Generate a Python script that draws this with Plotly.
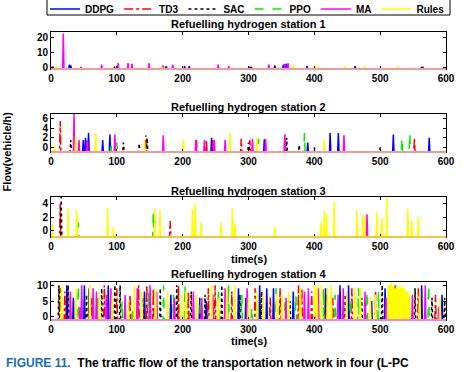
import plotly.graph_objects as go

W, H = 474, 372
T_MIN, T_MAX = 0, 600
BASE = -1      # resting level of every series (bottom of each panel)
HALF = 1.0     # half width (s) of a single-sample spike

series_names = ["DDPG", "TD3", "SAC", "PPO", "MA", "Rules"]
series_colors = ["#0000ff", "#ff0000", "#000000", "#00ee00", "#ff00ff", "#ffff00"]
series_dash = ["solid", "dashdot", "dot", "dash", "solid", "solid"]

station_titles = ["Refuelling hydrogen station 1", "Refuelling hydrogen station 2",
                  "Refuelling hydrogen station 3", "Refuelling hydrogen station 4"]
y_ranges = [[-1, 24], [-1, 7], [-1, 5], [-1, 11]]
y_ticks = [[0, 10, 20], [0, 2, 4, 6], [0, 2, 4], [0, 5, 10]]
x_ticks = [0, 100, 200, 300, 400, 500, 600]
base_tint = ["#f59a9a", "#f59a9a", "#f8c24a", "#f08ad0"]

# ---------------- Station 1 ----------------
s1_ddpg_t = [3, 28, 30, 175, 203, 210, 302, 340, 353, 357, 389, 462]
s1_ddpg_v = [0.5, 2, 1.5, 1, 1, 1, 0.5, 1.5, 2, 2.5, 1, 1]
s1_td3_t = [2, 45, 565]
s1_td3_v = [0.5, 1, 0.5]
s1_sac_t = [96, 305, 563]
s1_sac_v = [1, 0.3, 0.3]
s1_ppo_t = []
s1_ppo_v = []
s1_ma_t = [18.7, 77, 102, 117, 123, 149, 170, 185, 254, 270, 331, 355, 360]
s1_ma_v = [23, 2, 3, 3, 2.5, 3, 1.5, 2, 2, 1, 2, 2.5, 3]
s1_rules_t = [8, 10, 168, 368, 400, 405, 447, 476, 527]
s1_rules_v = [0.5, 0.3, 1, 2, 1.5, 1, 1, 1, 1]

# ---------------- Station 2 ----------------
s2_ddpg_t = [49, 52.5, 57, 78.5, 89.5, 244, 324, 390, 424, 436.5, 520, 574.5]
s2_ddpg_v = [1.5, 2, 3, 1.5, 2.7, 2, 1.7, 1, 3, 3, 2.7, 2]
s2_td3_t = [14, 55, 144, 221, 236, 246, 289, 302, 355.5, 552]
s2_td3_v = [5.5, 1.5, 2.5, 1.5, 1.5, 1.5, 1.8, 1.5, 2.7, 2]
s2_sac_t = [30, 110, 134, 146, 300, 358, 377, 400, 500]
s2_sac_v = [1.5, 1, 0.8, 2, 1, 2, 0.5, 0, 0]
s2_ppo_t = [91, 100, 315, 385, 533, 545]
s2_ppo_v = [1, 1, 1.8, 3, 2, 3]
s2_ma_t = [35, 42.5, 55, 97, 170.5, 220, 233, 248, 264.5, 306, 326, 355, 445]
s2_ma_v = [7, 1.5, 1.5, 2.7, 2.5, 1.5, 1.5, 1.5, 1.5, 1.8, 1.7, 2.5, 2.5]
s2_rules_t = [5, 37.5, 68, 142, 201, 272, 312.5, 415]
s2_rules_v = [0.5, 2.5, 3, 1.5, 1.5, 3, 2, 1.5]

# ---------------- Station 3 ----------------
s3_ddpg_t = []
s3_ddpg_v = []
s3_td3_t = [14, 181]
s3_td3_v = [4, 1.4]
s3_sac_t = [15.5]
s3_sac_v = [5]
s3_ppo_t = [41.5, 155.5]
s3_ppo_v = [1.2, 2.8]
s3_ma_t = [480]
s3_ma_v = [2.4]
s3_rules_t = [2, 26, 39, 86, 94.7, 158, 165.6, 215, 219, 228, 258, 275.5, 279.5, 340,
              410, 415, 418.5, 430, 464.5, 473.7, 476.2, 495, 502.6, 510, 542, 548, 558]
s3_rules_v = [1, 3.3, 3, 3.4, 0.5, 3.3, 3, 3.2, 4.1, 1.2, 1.2, 3.3, 1, 0.5,
              1.2, 3, 2.5, 4.3, 3, 2.3, 2.2, 2.7, 1.8, 5, 3.3, 1.5, 2]

# ---------------- Station 4 ----------------
s4_ddpg_t = [24, 34, 50.7, 58, 87, 142, 182, 226, 236, 284.8, 296, 317, 327.7, 338, 368,
             403, 417, 439, 452, 487, 507.5, 523, 541, 563, 594]
s4_ddpg_v = [10, 6, 10, 9, 10, 8, 7, 6, 5, 9, 6, 10, 9, 9, 8,
             7, 9, 10, 10, 5, 9, 10, 6, 10, 7]
s4_td3_t = [14, 21, 62, 81, 100, 120, 133, 145.5, 155.5, 193.5, 208.7, 239, 249.3, 274.6,
            310, 333, 348, 376, 381, 396, 419, 428, 457, 493, 530, 558, 584]
s4_td3_v = [9, 8, 6, 10, 9, 7, 10, 10, 9, 10, 8, 9, 10, 8,
            9, 6, 9, 10, 9, 8, 7, 6, 9, 8, 7, 9, 7]
s4_sac_t = [12, 26, 54, 77, 97, 105, 139, 166, 191, 213, 234, 259.4, 287, 320, 363,
            447, 472, 503, 536, 553, 578.7, 598]
s4_sac_v = [10, 10, 7, 9, 10, 10, 6, 9, 10, 8, 7, 10, 7, 8, 5,
            7, 6, 10, 8, 9, 6, 6]
s4_ppo_t = [29, 41.5, 71, 108, 123.6, 148, 171, 186, 203.6, 227, 254.3, 269.5, 289.9, 305,
            342, 355.6, 372, 414, 431.6, 455, 467, 480, 497.5, 560, 573.6]
s4_ppo_v = [6, 10, 6, 5, 3, 8, 10, 7, 10, 6, 9, 10, 7, 3,
            9, 6, 7, 9, 7, 6, 9, 8, 8, 5, 10]
s4_ma_t = [29.5, 44, 46.6, 64, 69, 84, 91, 112.5, 131, 150.5, 160.6, 187.5, 216.3, 229, 246,
           264.4, 298, 357, 385, 391, 406, 436, 444, 477, 509, 549, 568.5, 589]
s4_ma_v = [8, 3, 10, 9, 8, 7, 9, 7, 9, 10, 8, 6, 8, 6, 7,
           9, 9, 6, 8, 9, 9, 7, 9, 8, 6, 7, 10, 3]
s4_rules_t = [16, 38, 59, 74, 93, 117.5, 126.6, 138, 159, 177.3, 198.6, 205, 221.4, 244, 254,
              267, 279.7, 300, 313, 322.5, 343, 351, 361, 379, 401, 404, 411, 420, 425.6,
              449, 462, 470, 485, 493, 512, 514.5, 517, 519.5, 522, 524.5, 527, 529.5, 532,
              534.5, 537, 539.5, 542, 544.5, 560, 591]
s4_rules_v = [10, 9, 10, 8, 7, 5, 10, 8, 9, 8, 7, 8, 7, 10, 6,
              9, 10, 6, 8, 7, 7, 7, 8, 9, 10, 10, 10, 9, 10,
              8, 9, 9, 6, 7, 10, 10, 11, 10, 9, 10, 10, 9, 10,
              9, 9, 8, 8, 7, 8, 6]

stations = [
    [(s1_ddpg_t, s1_ddpg_v), (s1_td3_t, s1_td3_v), (s1_sac_t, s1_sac_v),
     (s1_ppo_t, s1_ppo_v), (s1_ma_t, s1_ma_v), (s1_rules_t, s1_rules_v)],
    [(s2_ddpg_t, s2_ddpg_v), (s2_td3_t, s2_td3_v), (s2_sac_t, s2_sac_v),
     (s2_ppo_t, s2_ppo_v), (s2_ma_t, s2_ma_v), (s2_rules_t, s2_rules_v)],
    [(s3_ddpg_t, s3_ddpg_v), (s3_td3_t, s3_td3_v), (s3_sac_t, s3_sac_v),
     (s3_ppo_t, s3_ppo_v), (s3_ma_t, s3_ma_v), (s3_rules_t, s3_rules_v)],
    [(s4_ddpg_t, s4_ddpg_v), (s4_td3_t, s4_td3_v), (s4_sac_t, s4_sac_v),
     (s4_ppo_t, s4_ppo_v), (s4_ma_t, s4_ma_v), (s4_rules_t, s4_rules_v)],
]


def spike_series(ts, vs):
    """Flow trace at 1-s sampling: resting at BASE, one sample per spike."""
    x, y = [T_MIN], [BASE]
    for t, v in sorted(zip(ts, vs)):
        x += [t - HALF, t, t + HALF]
        y += [BASE, v, BASE]
    x.append(T_MAX)
    y.append(BASE)
    return x, y


def px_x(p):
    return p / W


def px_y(p):
    return 1 - p / H


FONT = "Liberation Sans, Arial, sans-serif"
x_dom = [px_x(51), px_x(446)]
y_doms_px = [(32, 69), (114, 152), (197, 237), (282, 320)]
title_px = [23.5, 107, 191, 273.5]

fig = go.Figure()
for si, series in enumerate(stations):
    xa = "x" if si == 0 else f"x{si + 1}"
    ya = "y" if si == 0 else f"y{si + 1}"
    for k, (ts, vs) in enumerate(series):
        x, y = spike_series(ts, vs)
        fig.add_trace(go.Scatter(
            x=x, y=y, mode="lines", xaxis=xa, yaxis=ya,
            name=series_names[k], legendgroup=series_names[k], showlegend=(si == 0),
            line=dict(color=series_colors[k], width=1.5, dash=series_dash[k]),
            hoverinfo="skip"))

axis_common = dict(showline=True, linecolor="black", linewidth=1, mirror="ticks",
                   ticks="inside", ticklen=3, tickcolor="black", showgrid=False,
                   zeroline=False,
                   tickfont=dict(family=FONT, size=10, color="black", weight="bold"))
layout = {}
shapes = []
annotations = []
for si in range(4):
    top, bot = y_doms_px[si]
    xk = "xaxis" if si == 0 else f"xaxis{si + 1}"
    yk = "yaxis" if si == 0 else f"yaxis{si + 1}"
    ya = "y" if si == 0 else f"y{si + 1}"
    xa = "x" if si == 0 else f"x{si + 1}"
    layout[xk] = dict(domain=x_dom, anchor=ya, range=[T_MIN, T_MAX], tickvals=x_ticks,
                      **axis_common)
    layout[yk] = dict(domain=[px_y(bot), px_y(top)], anchor=xa, range=y_ranges[si],
                      tickvals=y_ticks[si], **axis_common)
    # overlapping resting lines of all series tint the bottom edge
    shapes.append(dict(type="line", xref=f"{xa} domain", yref=f"{ya} domain",
                       x0=0, x1=1, y0=0, y1=0, layer="above",
                       line=dict(color=base_tint[si], width=2)))
    annotations.append(dict(text=station_titles[si], xref="paper", yref="paper",
                            x=(x_dom[0] + x_dom[1]) / 2, y=px_y(title_px[si]),
                            xanchor="center", yanchor="middle", showarrow=False,
                            font=dict(family=FONT, size=11, color="black", weight="bold")))

for yp in (258.5, 341):
    annotations.append(dict(text="time(s)", xref="paper", yref="paper",
                            x=(x_dom[0] + x_dom[1]) / 2, y=px_y(yp),
                            xanchor="center", yanchor="middle", showarrow=False,
                            font=dict(family=FONT, size=11, color="black", weight="bold")))

annotations.append(dict(text="Flow(vehicle/h)", xref="paper", yref="paper",
                        x=px_x(6.5), y=px_y(152), textangle=-90,
                        xanchor="center", yanchor="middle", showarrow=False,
                        font=dict(family=FONT, size=11, color="black", weight="bold")))

annotations.append(dict(
    text="<span style='color:#1a6db3'>FIGURE 11.</span>  The traffic flow of the transportation network in four (L-PC",
    xref="paper", yref="paper", x=px_x(4), y=px_y(363), xanchor="left", yanchor="middle",
    showarrow=False, font=dict(family=FONT, size=12, color="black", weight="bold")))

# legend frame (top edge runs off the top of the picture)
shapes.append(dict(type="rect", xref="paper", yref="paper",
                   x0=px_x(47), x1=px_x(450), y0=px_y(15), y1=px_y(-1),
                   line=dict(color="black", width=1), fillcolor="white", layer="above"))

fig.update_layout(
    width=W, height=H,
    margin=dict(l=0, r=0, t=0, b=0, pad=0, autoexpand=False),
    paper_bgcolor="white", plot_bgcolor="white",
    showlegend=True,
    legend=dict(orientation="h", x=px_x(45), xanchor="left", y=px_y(-5.5), yanchor="top",
                borderwidth=0, bgcolor="rgba(0,0,0,0)", itemwidth=30,
                font=dict(family=FONT, size=10, color="black", weight="bold"),
                itemclick=False, itemdoubleclick=False),
    shapes=shapes, annotations=annotations,
    **layout,
)

fig.write_html("out.html", config={"displayModeBar": False},
               post_script="document.body.style.margin='0px';")
